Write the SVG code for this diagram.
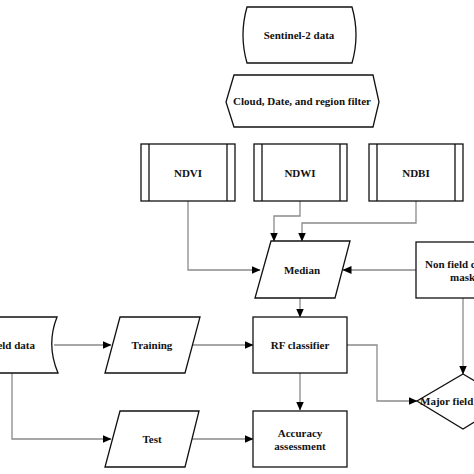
<svg xmlns="http://www.w3.org/2000/svg" width="474" height="474" viewBox="0 0 474 474">
<style>
.s{fill:#fff;stroke:#111;stroke-width:1.3}
.c{fill:none;stroke:#8a8a8a;stroke-width:1.3}
text{font-family:"Liberation Serif","Times New Roman",serif;font-weight:bold;fill:#111;text-anchor:middle;font-size:11px}
</style>
<defs>
<marker id="a" markerWidth="9" markerHeight="8" refX="8.5" refY="4" orient="auto" markerUnits="userSpaceOnUse">
<path d="M0,0 L9,4 L0,8 Z" fill="#000"/>
</marker>
</defs>
<rect width="474" height="474" fill="#fff"/>
<g id="connectors">
<path class="c" d="M188,201 V270 H260" marker-end="url(#a)"/>
<path class="c" d="M300,201 V216 H274 V241" marker-end="url(#a)"/>
<path class="c" d="M416,201 V223 H302 V241" marker-end="url(#a)"/>
<path class="c" d="M416,270 H343" marker-end="url(#a)"/>
<path class="c" d="M300,298 V317" marker-end="url(#a)"/>
<path class="c" d="M463,298 V374" marker-end="url(#a)"/>
<path class="c" d="M54,345 H111" marker-end="url(#a)"/>
<path class="c" d="M192,345 H253" marker-end="url(#a)"/>
<path class="c" d="M12,373 V439 H111" marker-end="url(#a)"/>
<path class="c" d="M192,439 H253" marker-end="url(#a)"/>
<path class="c" d="M300,373 V410" marker-end="url(#a)"/>
<path class="c" d="M347,345 H377 V401 H417" marker-end="url(#a)"/>
</g>
<g id="sentinel">
<path class="s" d="M247,7 L352,7 Q360,35 352,63 L247,63 Q239,35 247,7 Z"/>
<text x="299" y="39" font-size="10">Sentinel-2 data</text>
</g>
<g id="filter">
<path class="s" d="M234,75 L373,75 L379,102 L373,127 L234,127 L226,102 Z"/>
<text x="302" y="105" font-size="9">Cloud, Date, and region filter</text>
</g>
<g id="ndvi">
<rect class="s" x="141" y="144" width="94" height="57"/>
<path class="s" d="M149,144 V201 M227,144 V201"/>
<text x="188" y="177" font-size="13">NDVI</text>
</g>
<g id="ndwi">
<rect class="s" x="254" y="144" width="93" height="57"/>
<path class="s" d="M262,144 V201 M340,144 V201"/>
<text x="300" y="177" font-size="13">NDWI</text>
</g>
<g id="ndbi">
<rect class="s" x="369" y="144" width="94" height="57"/>
<path class="s" d="M377,144 V201 M455,144 V201"/>
<text x="416" y="177" font-size="13">NDBI</text>
</g>
<g id="median">
<path class="s" d="M271,241 L350,241 L335,298 L255,298 Z"/>
<text x="302" y="274">Median</text>
</g>
<g id="nonfield">
<rect class="s" x="416" y="242" width="100" height="56"/>
<text x="425" y="268" style="text-anchor:start">Non field crop</text>
<text x="450" y="281" style="text-anchor:start">mask</text>
</g>
<g id="fielddata">
<path class="s" d="M-20,317 L57,317 Q46,345 58,373 L-20,373 Z"/>
<text x="35" y="349" style="text-anchor:end">Field data</text>
</g>
<g id="training">
<path class="s" d="M120,317 L200,317 L185,373 L105,373 Z"/>
<text x="152" y="349">Training</text>
</g>
<g id="rf">
<rect class="s" x="253" y="317" width="94" height="56"/>
<text x="300" y="349">RF classifier</text>
</g>
<g id="test">
<path class="s" d="M120,411 L199,411 L185,467 L105,467 Z"/>
<text x="152" y="443">Test</text>
</g>
<g id="accuracy">
<rect class="s" x="253" y="411" width="94" height="56"/>
<text x="300" y="437">Accuracy</text>
<text x="300" y="450">assessment</text>
</g>
<g id="major">
<path class="s" d="M463,374 L509,401 L463,429 L417,401 Z"/>
<text x="420" y="405" style="text-anchor:start">Major field crop</text>
</g>
</svg>
